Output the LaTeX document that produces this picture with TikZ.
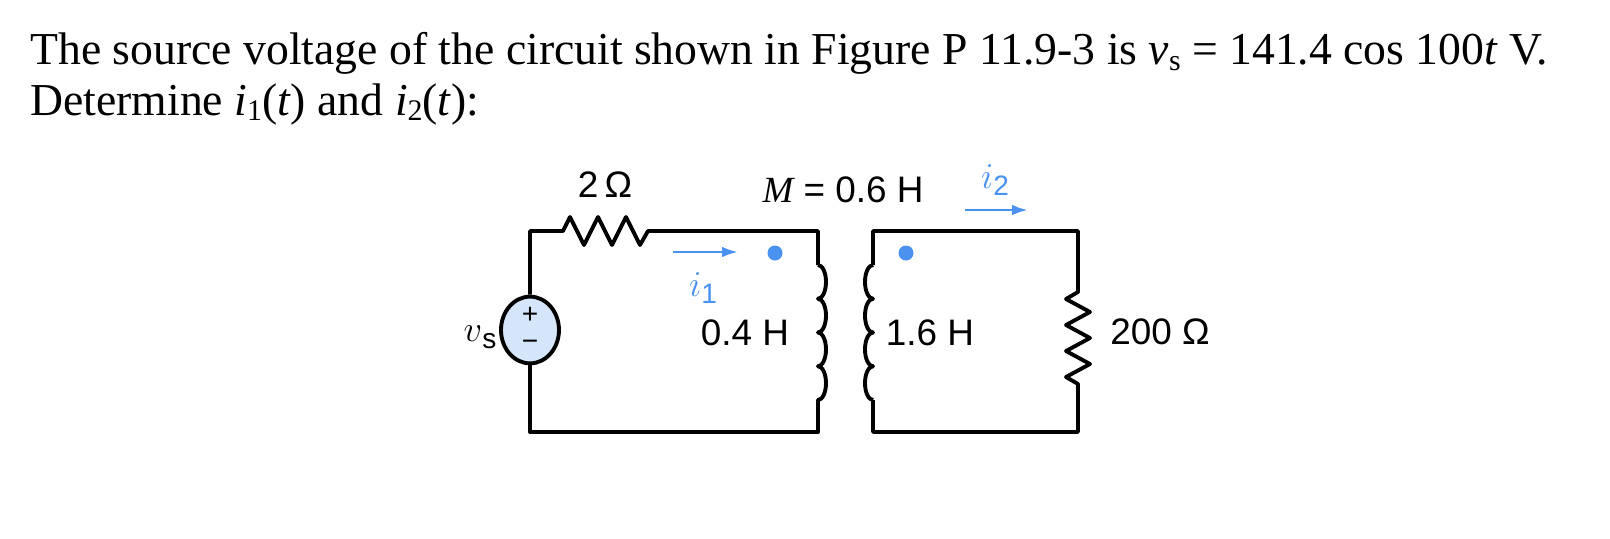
\documentclass[tikz,border=0pt]{standalone}
\usepackage{fontspec}
\setmainfont{Liberation Serif}
\newfontfamily\cs{Liberation Sans}
\definecolor{iblue}{RGB}{74,145,240}
\definecolor{srcfill}{RGB}{214,230,250}
\usetikzlibrary{arrows.meta,shapes.geometric}
\begin{document}
\begin{tikzpicture}[x=0.02cm,y=-0.02cm,
  wire/.style={line width=2.2pt,line join=round},
  lbl/.style={font=\cs\fontsize{21}{21}\selectfont,inner sep=0pt},
  cur/.style={iblue,line width=1.6pt,-{Latex[length=9pt,width=6pt]}},
  ilbl/.style={iblue,font=\fontsize{22}{22}\selectfont,inner sep=0pt}]
\useasboundingbox (0,0) rectangle (1610,538);
\node[anchor=base west,inner sep=0pt,align=left,font=\fontsize{26}{28.5}\selectfont] (txt) at (30,115)
 {The source voltage of the circuit shown in Figure P 11.9-3 is \textit{v}\raisebox{-3pt}{\fontsize{17}{17}\selectfont s} = 141.4 cos 100\textit{t} V.\\
  Determine \textit{i}\raisebox{-3pt}{\fontsize{17}{17}\selectfont 1}(\textit{t}) and \textit{i}\raisebox{-3pt}{\fontsize{17}{17}\selectfont 2}(\textit{t}):};
% corners
\coordinate (tl) at (530,231); \coordinate (bl) at (530,432);
\coordinate (r1a) at (563,231); \coordinate (r1b) at (648,231);
\coordinate (tp) at (818,231); \coordinate (bp) at (818,432);
\coordinate (pa) at (818,265); \coordinate (pb) at (818,400);
\coordinate (ts) at (873,231); \coordinate (bs) at (873,432);
\coordinate (sa) at (873,265); \coordinate (sb) at (873,400);
\coordinate (tr) at (1078,231); \coordinate (br) at (1078,432);
\coordinate (ra) at (1078,292); \coordinate (rb) at (1078,398);
\node[ellipse,draw,line width=2.2pt,fill=srcfill,minimum width=33pt,minimum height=38pt,inner sep=0pt] (vs) at (530,330) {};
\node[font=\cs\fontsize{16}{16}\selectfont,inner sep=0pt] (plus) at (530,315) {+};
\node[font=\cs\fontsize{16}{16}\selectfont,inner sep=0pt] (minus) at (530,345) {\char"2212};
% primary loop
\draw[wire] (vs.north) -- (tl) -- (r1a)
  -- ++(7,-14) -- ++(14,28) -- ++(14,-28) -- ++(14,28) -- ++(14,-28) -- ++(14,28) -- (r1b)
  -- (tp) -- (pa);
\draw[wire] (pa) \foreach \k in {1,...,4}{ arc(-90:90:8 and 16.875)} -- (pb);
\draw[wire] (pb) -- (bp) -- (bl) -- (vs.south);
% secondary loop
\draw[wire] (sa) -- (ts) -- (tr) -- (ra)
  -- ++(-12,7) -- ++(24,13) -- ++(-24,13) -- ++(24,13) -- ++(-24,13) -- ++(24,13) -- ++(-24,13) -- ++(12,7) -- (rb)
  -- (br) -- (bs) -- (sb);
\draw[wire] (sa) \foreach \k in {1,...,4}{ arc(-90:-270:8 and 16.875)};
% dots and currents
\fill[iblue] (775,253) circle (7.5) coordinate (d1);
\fill[iblue] (906,253) circle (7.5) coordinate (d2);
\coordinate (i1a) at (673,252); \coordinate (i1b) at (738,252);
\draw[cur] (i1a) -- (i1b);
\coordinate (i2a) at (965,210); \coordinate (i2b) at (1028,210);
\draw[cur] (i2a) -- (i2b);
\node[ilbl] (l1) at (703,288) {$i$\cs\fontsize{16}{16}\selectfont\raisebox{-4pt}{1}};
\node[ilbl] (l2) at (995,180) {$i$\cs\fontsize{16}{16}\selectfont\raisebox{-4pt}{2}};
% labels
\node[lbl] (lr1) at (605,185) {2\,Ω};
\node[lbl] (lm) at (843,190) {{\rmfamily\itshape M} = 0.6 H};
\node[lbl] (lp) at (745,333) {0.4 H};
\node[lbl] (ls) at (930,333) {1.6 H};
\node[lbl] (lr2) at (1160,332) {200 Ω};
\node[inner sep=0pt,font=\fontsize{22}{22}\selectfont] (lv) at (480,337) {$v$\cs\fontsize{16}{16}\selectfont\raisebox{-4pt}{s}};
\end{tikzpicture}
\end{document}
